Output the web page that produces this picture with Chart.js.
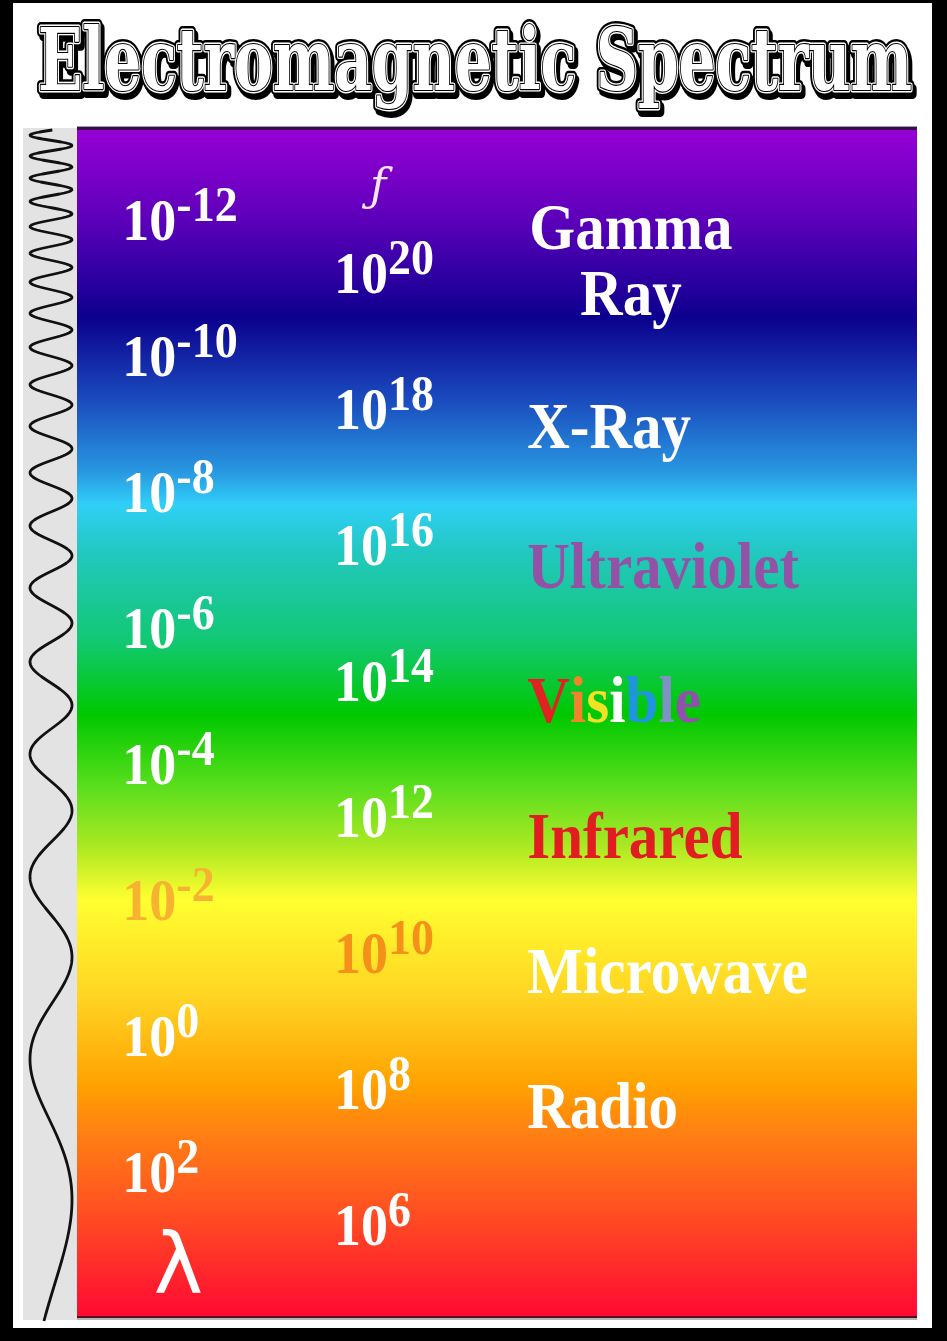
<!DOCTYPE html>
<html>
<head>
<meta charset="utf-8">
<title>Electromagnetic Spectrum</title>
<script src="https://cdn.jsdelivr.net/npm/chart.js@4.4.1/dist/chart.umd.min.js"></script>
<style>
  html, body { margin: 0; padding: 0; background: #000; }
  #wrap { width: 947px; height: 1341px; }
</style>
</head>
<body>
<div id="wrap"><canvas id="spectrum" width="947" height="1341"></canvas></div>
<script>
const TITLE = 'Electromagnetic Spectrum';

// wavelength in metres, as the exponent of 10 (top to bottom)
const wavelengthExp = [-12, -10, -8, -6, -4, -2, 0, 2];
const wavelengthColors = ['#ffffff', '#ffffff', '#ffffff', '#ffffff', '#ffffff', '#f7b232', '#ffffff', '#ffffff'];

// frequency in Hz, as the exponent of 10
const frequencyExp = [20, 18, 16, 14, 12, 10, 8, 6];
const frequencyColors = ['#ffffff', '#ffffff', '#ffffff', '#ffffff', '#ffffff', '#f5901a', '#ffffff', '#ffffff'];

// bands and where they sit on the wavelength scale
const bandNames = ['Gamma\nRay', 'X-Ray', 'Ultraviolet', 'Visible', 'Infrared', 'Microwave', 'Radio'];
const bandAt = [-11.4, -8.95, -6.9, -4.93, -2.93, -0.94, 1.05];
const bandColors = ['#ffffff', '#ffffff', '#9452a6', 'rainbow', '#e11d22', '#ffffff', '#ffffff'];
const visibleLetterColors = ['#e02222', '#f0832c', '#f2e124', '#ffffff', '#1f95e0', '#7f92c4', '#9150ad'];

// layout (not data)
const FREQ_SHIFT = 8.78;   // frequency labels sit this far below on the wavelength scale
const COL_WAVE = 0.054;
const COL_FREQ = 0.306;
const COL_BAND = 0.536;
const SERIF = "'Liberation Serif', 'Times New Roman', serif";

const spectrumStops = [
    [0.000, '#9600d4'], [0.076, '#5c00ba'], [0.158, '#0c008e'], [0.228, '#1a4cbe'],
    [0.287, '#2896e0'], [0.316, '#30cff8'], [0.354, '#22c8c2'], [0.430, '#12c874'],
    [0.493, '#00c800'], [0.556, '#5edf1e'], [0.603, '#a9e822'], [0.649, '#ffff30'],
    [0.734, '#ffd222'], [0.805, '#ffa200'], [0.843, '#ff8212'], [0.911, '#ff5022'],
    [1.000, '#ff0a32']
];

// draw text slightly taller than the font, like the original lettering
function drawText(ctx, text, x, baseline, font, color, align) {
    ctx.save();
    ctx.translate(x, baseline);
    ctx.scale(1, 1.1);
    ctx.font = font;
    ctx.fillStyle = color;
    ctx.textAlign = align || 'left';
    ctx.textBaseline = 'alphabetic';
    ctx.fillText(text, 0, 0);
    const w = ctx.measureText(text).width;
    ctx.restore();
    return w;
}

function drawPower(ctx, x, y, exp, color) {
    const baseline = y + 20;
    const w = drawText(ctx, '10', x, baseline, 'bold 54px ' + SERIF, color);
    drawText(ctx, String(exp), x + w, baseline - 19, 'bold 46px ' + SERIF, color);
}

function drawBand(ctx, x, y, name, color) {
    const font = 'bold 59px ' + SERIF;
    const lines = name.split('\n');
    if (lines.length > 1) {
        ctx.font = font;
        const widest = Math.max(...lines.map(l => ctx.measureText(l).width));
        lines.forEach((line, j) => {
            const baseline = y + 21 - (lines.length - 1) * 33 + j * 66;
            drawText(ctx, line, x + widest / 2 + 2, baseline, font, color, 'center');
        });
        return;
    }
    if (color === 'rainbow') {
        let cx = x;
        name.split('').forEach((ch, k) => {
            cx += drawText(ctx, ch, cx, y + 21, font, visibleLetterColors[k % visibleLetterColors.length]);
        });
        return;
    }
    drawText(ctx, name, x, y + 21, font, color);
}

const backdrop = {
    id: 'backdrop',
    beforeDraw(chart) {
        const ctx = chart.ctx;
        const a = chart.chartArea;
        ctx.save();
        ctx.fillStyle = '#000';
        ctx.fillRect(0, 0, chart.width, chart.height);
        ctx.fillStyle = '#fff';
        ctx.fillRect(13, 3, 919, 1325);

        // grey strip with the wave
        ctx.fillStyle = '#e3e3e3';
        ctx.fillRect(23, a.top - 2, a.left - 23, a.bottom - a.top + 6);

        // spectrum panel
        const g = ctx.createLinearGradient(0, a.top, 0, a.bottom);
        spectrumStops.forEach(s => g.addColorStop(s[0], s[1]));
        ctx.fillStyle = g;
        ctx.fillRect(a.left, a.top, a.width, a.height);
        ctx.fillStyle = '#a0a0a0';
        ctx.fillRect(a.left, a.top - 4, a.width, 1);
        ctx.fillStyle = '#3a0c4a';
        ctx.fillRect(a.left, a.top - 3, a.width, 3);
        ctx.fillStyle = '#5a0a1a';
        ctx.fillRect(a.left, a.bottom, a.width, 2);
        ctx.fillStyle = '#b4b4b4';
        ctx.fillRect(a.left, a.bottom + 2, a.width, 2);

        // wave: period grows down the strip
        const cx = 51, amp = 21, p0 = 20, k = 0.00265, y0 = a.top;
        ctx.beginPath();
        for (let y = a.top; y <= 1321; y += 1) {
            const cycles = (1 - Math.exp(-k * (y - y0))) / (p0 * k) + 0.24;
            const x = cx + amp * Math.cos(2 * Math.PI * cycles);
            if (y === a.top) ctx.moveTo(x, y); else ctx.lineTo(x, y);
        }
        ctx.strokeStyle = '#111';
        ctx.lineWidth = 2.8;
        ctx.lineJoin = 'round';
        ctx.stroke();

        // title
        ctx.font = "bold 86px 'DejaVu Serif', serif";
        if ('fontStretch' in ctx) ctx.fontStretch = 'condensed';
        const tw = ctx.measureText(TITLE).width;
        ctx.translate(38, 90);
        ctx.scale(874 / tw, 1);
        ctx.textBaseline = 'alphabetic';
        ctx.lineJoin = 'round';
        ctx.strokeStyle = '#000';
        ctx.fillStyle = '#000';
        ctx.lineWidth = 10;
        ctx.strokeText(TITLE, 3, 4);
        ctx.strokeText(TITLE, 0, 0);
        ctx.strokeStyle = '#fff';
        ctx.lineWidth = 5;
        ctx.strokeText(TITLE, 0, 0);
        ctx.strokeStyle = '#000';
        ctx.lineWidth = 2.2;
        ctx.strokeText(TITLE, 0, 0);
        ctx.fillStyle = '#fff';
        ctx.fillText(TITLE, 0, 0);
        ctx.restore();
    }
};

const labels = {
    id: 'labels',
    afterDatasetsDraw(chart) {
        const ctx = chart.ctx;
        chart.data.datasets.forEach((ds, di) => {
            const meta = chart.getDatasetMeta(di);
            meta.data.forEach((pt, i) => {
                if (ds.kind === 'power') drawPower(ctx, pt.x, pt.y, ds.exps[i], ds.colors[i]);
                else drawBand(ctx, pt.x, pt.y, ds.names[i], ds.colors[i]);
            });
        });

        // axis symbols: lambda under the wavelengths, f above the frequencies
        const xs = chart.scales.x, ys = chart.scales.y;
        ctx.save();
        ctx.textAlign = 'center';
        ctx.fillStyle = '#ffffff';
        ctx.font = "84px 'DejaVu Sans', sans-serif";
        ctx.fillText('\u03bb', xs.getPixelForValue(COL_WAVE) + 56, ys.getPixelForValue(3.32) + 31);
        ctx.fillStyle = '#ffe6f6';
        ctx.font = "italic 44px 'DejaVu Serif', serif";
        ctx.fillText('\u0192', xs.getPixelForValue(COL_FREQ) + 44, ys.getPixelForValue(-12.47) + 12);
        ctx.restore();
    }
};

new Chart(document.getElementById('spectrum'), {
    type: 'scatter',
    data: {
        datasets: [
            {
                label: 'Wavelength (m)',
                kind: 'power',
                exps: wavelengthExp,
                colors: wavelengthColors,
                data: wavelengthExp.map(e => ({ x: COL_WAVE, y: e })),
                pointRadius: 0
            },
            {
                label: 'Frequency (Hz)',
                kind: 'power',
                exps: frequencyExp,
                colors: frequencyColors,
                data: frequencyExp.map(e => ({ x: COL_FREQ, y: FREQ_SHIFT - e })),
                pointRadius: 0
            },
            {
                label: 'Band',
                kind: 'band',
                names: bandNames,
                colors: bandColors,
                data: bandAt.map(v => ({ x: COL_BAND, y: v })),
                pointRadius: 0
            }
        ]
    },
    options: {
        responsive: false,
        devicePixelRatio: 1,
        animation: false,
        events: [],
        layout: { padding: { left: 77, right: 30, top: 130, bottom: 25 } },
        plugins: {
            legend: { display: false },
            tooltip: { enabled: false }
        },
        scales: {
            x: { type: 'linear', min: 0, max: 1, display: false },
            y: { type: 'linear', min: -13.324, max: 4.118, reverse: true, display: false }
        }
    },
    plugins: [backdrop, labels]
});
</script>
</body>
</html>
